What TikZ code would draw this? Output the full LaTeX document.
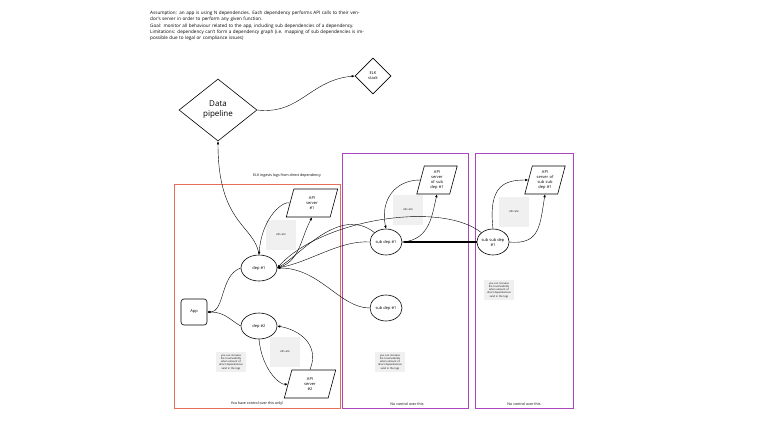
\documentclass[tikz,border=0pt]{standalone}
\usepackage{fontspec}
\setmainfont{Open Sans}
\usetikzlibrary{shapes.geometric,positioning,arrows.meta}
\definecolor{redbox}{RGB}{232,110,90}
\definecolor{purplebox}{RGB}{170,70,190}
\definecolor{notegray}{RGB}{240,240,240}
\tikzset{
  tx/.style={font=\fontsize{3.6}{4.4}\selectfont},
  dep/.style={ellipse,draw,semithick,minimum width=36pt,minimum height=26pt,font=\fontsize{4}{5}\selectfont,align=center,inner sep=0pt},
  server/.style={trapezium,trapezium left angle=75,trapezium right angle=105,draw,semithick,minimum width=22pt,minimum height=28pt,font=\fontsize{4}{5}\selectfont,align=center,inner sep=0.5pt,text width=17pt},
  dia/.style={diamond,draw,semithick,align=center,inner sep=0pt},
  calls/.style={fill=notegray,minimum width=30pt,minimum height=30pt,font=\fontsize{2.5}{3}\selectfont},
  note/.style={fill=notegray,text width=26pt,align=center,font=\fontsize{2.5}{3.2}\selectfont,inner sep=2pt},
  link/.style={-{Latex[length=3pt,width=2.5pt]},thin}
}
\begin{document}
\begin{tikzpicture}[x=1pt,y=-1pt]
\useasboundingbox (0,0) rectangle (768,432);
% notes and frames
\node[anchor=north west,align=left,text width=215pt,inner sep=0pt,font=\fontsize{4.6}{6.2}\selectfont] (intro) at (150,11)
 {Assumption: an app is using N dependencies. Each dependency performs API calls to their vendor's server in order to perform any given function.\\
 Goal: monitor all behaviour related to the app, including sub dependencies of a dependency.\\
 Limitations: dependency can't form a dependency graph (i.e. mapping of sub dependencies is impossible due to legal or compliance issues)};
\draw[redbox,thick] (174,184) rectangle (340,408);
\draw[purplebox,thick] (342,153) rectangle (468,408);
\draw[purplebox,thick] (475,153) rectangle (573,408);
\node[tx] (own) at (257,404) {You have control over this only!};
\node[tx] (nc1) at (407,404) {No control over this};
\node[tx] (nc2) at (524,404) {No control over this};
\node[tx] (ingest) at (287,176) {ELK ingests logs from direct dependency};
% grey boxes
\node[calls] (c1) at (281,235) {API calls};
\node[calls] (c2) at (285,352) {API calls};
\node[calls] (c3) at (408,210) {API calls};
\node[calls] (c4) at (514,212) {API calls};
\node[note] (n1) at (231,362) {you can increase the trust/visibility when amount of direct dependencies send in the logs};
\node[note] (n2) at (390,362) {you can increase the trust/visibility when amount of direct dependencies send in the logs};
\node[note] (n3) at (499,290) {you can increase the trust/visibility when amount of direct dependencies send in the logs};
% nodes
\node[dia,minimum width=78pt,minimum height=62pt,font=\fontsize{8}{10}\selectfont] (pipe) at (218,110) {Data\\pipeline};
\node[dia,minimum width=36pt,minimum height=36pt,font=\fontsize{4}{5}\selectfont] (elk) at (373,76) {ELK\\stack};
\node[draw,semithick,rounded corners=3pt,minimum width=26pt,minimum height=26pt,font=\fontsize{4}{5}\selectfont] (app) at (194,312) {App};
\node[dep] (d1) at (259,268) {dep \#1};
\node[dep] (d2) at (259,326) {dep \#2};
\node[server] (s1) at (312,203) {API server \#1};
\node[server] (s2) at (310,384) {API server \#2};
\node[dep,minimum width=32pt] (sd1) at (386,242) {sub dep \#1};
\node[dep,minimum width=32pt] (sd2) at (386,308) {sub dep \#1};
\node[server] (ss1) at (437,180) {API server of sub dep \#1};
\node[dep,minimum width=32pt] (ssd) at (493,242) {sub sub dep\\\#1};
\node[server] (ss2) at (545,180) {API server of sub sub dep \#1};
% connectors
\draw[link] (pipe.east) .. controls (300,115) and (310,80) .. (elk.west);
\draw[link] (d1.north) .. controls (255,225) and (218,225) .. (pipe.south);
\draw[link] (s1.west) .. controls (285,200) and (262,215) .. (d1.north);
\draw[link] (d1.east) .. controls (300,262) and (300,240) .. (s1.south);
\draw[link] (d1.west) .. controls (220,275) and (225,312) .. (app.east);
\draw[link] (d2.west) .. controls (230,320) and (225,312) .. (app.east);
\draw[link] (d2.south) .. controls (262,370) and (280,385) .. (s2.west);
\draw[link] (s2.north) .. controls (320,345) and (300,330) .. (d2.east);
\draw[link] (sd1.west) .. controls (340,240) and (310,262) .. (d1.east);
\draw[link] (sd1.north west) .. controls (340,205) and (300,255) .. (d1.east);
\draw[link] (sd2.west) .. controls (340,308) and (320,268) .. (d1.east);
\draw[link] (ssd.north west) .. controls (440,200) and (320,220) .. (d1.east);
\draw[link] (ss1.west) .. controls (395,180) and (380,200) .. (sd1.north);
\draw[link] (sd1.east) .. controls (430,240) and (432,215) .. (ss1.south);
\draw[-{Latex[length=3pt,width=2.5pt]},line width=1.2pt] (ssd.west) -- (sd1.east);
\draw[link] (ssd.north) .. controls (488,185) and (505,180) .. (ss2.west);
\draw[link] (ssd.east) .. controls (540,245) and (540,225) .. (ss2.south);
\end{tikzpicture}
\end{document}
